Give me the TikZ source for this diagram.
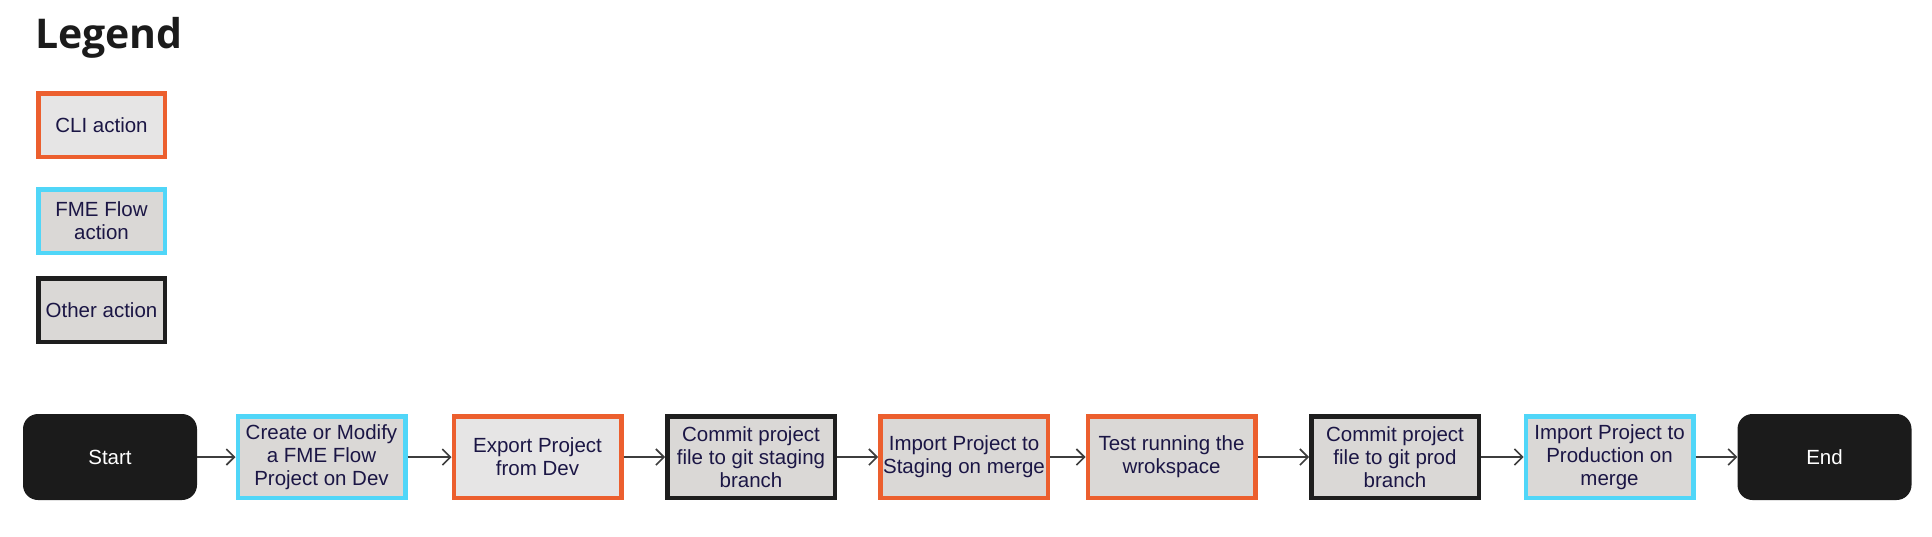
\documentclass[tikz,border=0pt]{standalone}
\usepackage{fontspec}
\setmainfont{Liberation Sans}
\newfontfamily\titlefont{Open Sans}
\usetikzlibrary{arrows.meta}

\definecolor{cliorange}{RGB}{236,95,46}
\definecolor{flowcyan}{RGB}{80,214,248}
\definecolor{otherblack}{RGB}{30,30,30}
\definecolor{termblack}{RGB}{27,27,27}
\definecolor{boxlight}{RGB}{230,229,229}
\definecolor{boxgray}{RGB}{218,216,214}
\definecolor{textnavy}{RGB}{27,22,69}
\definecolor{arrowgray}{RGB}{61,61,61}

\begin{document}
\begin{tikzpicture}[x=1pt, y=-1pt,
    action/.style={rectangle, line width=4.5pt, fill=boxgray, text=textnavy, inner sep=0pt,
        minimum width=167.5pt, minimum height=81.5pt, align=center,
        font=\fontsize{20.5}{23}\selectfont},
    legendbox/.style={action, minimum width=126.5pt, minimum height=63.5pt},
    cli/.style={draw=cliorange},
    fmeflow/.style={draw=flowcyan},
    other/.style={draw=otherblack},
    terminal/.style={rectangle, rounded corners=15pt, fill=termblack, text=white,
        minimum width=174pt, minimum height=86pt, inner sep=0pt,
        font=\fontsize{20.5}{23}\selectfont},
    flow/.style={draw=arrowgray, line width=1.6pt, -{Straight Barb[length=8pt, width=16pt]}}]

    \useasboundingbox (0,0) rectangle (1932,536);

    % legend
    \node[anchor=base west, text=termblack, font=\titlefont\bfseries\fontsize{41}{48}\selectfont, inner sep=0pt] (legend) at (35,48) {Legend};
    \node[legendbox, cli, fill=boxlight] (lcli) at (101.5,125) {CLI action};
    \node[legendbox, fmeflow] (lfme) at (101.5,221) {FME Flow\\action};
    \node[legendbox, other] (lother) at (101.5,310) {Other action};

    % pipeline
    \node[terminal] (start) at (110,457) {Start};
    \node[action, fmeflow] (create) at (321.5,457) {Create or Modify\\a FME Flow\\Project on Dev};
    \node[action, cli, fill=boxlight] (export) at (537.5,457) {Export Project\\from Dev};
    \node[action, other] (commitstg) at (751,457) {Commit project\\file to git staging\\branch};
    \node[action, cli] (importstg) at (964,457) {Import Project to\\Staging on merge};
    \node[action, cli] (test) at (1171.5,457) {Test running the\\wrokspace};
    \node[action, other] (commitprd) at (1395,457) {Commit project\\file to git prod\\branch};
    \node[action, fmeflow] (importprd) at (1609.5,457) {Import Project to\\Production on\\merge};
    \node[terminal] (end) at (1824.5,457) {End};

    \draw[flow] (start) -- (create);
    \draw[flow] (create) -- (export);
    \draw[flow] (export) -- (commitstg);
    \draw[flow] (commitstg) -- (importstg);
    \draw[flow] (importstg) -- (test);
    \draw[flow] (test) -- (commitprd);
    \draw[flow] (commitprd) -- (importprd);
    \draw[flow] (importprd) -- (end);

\end{tikzpicture}
\end{document}
